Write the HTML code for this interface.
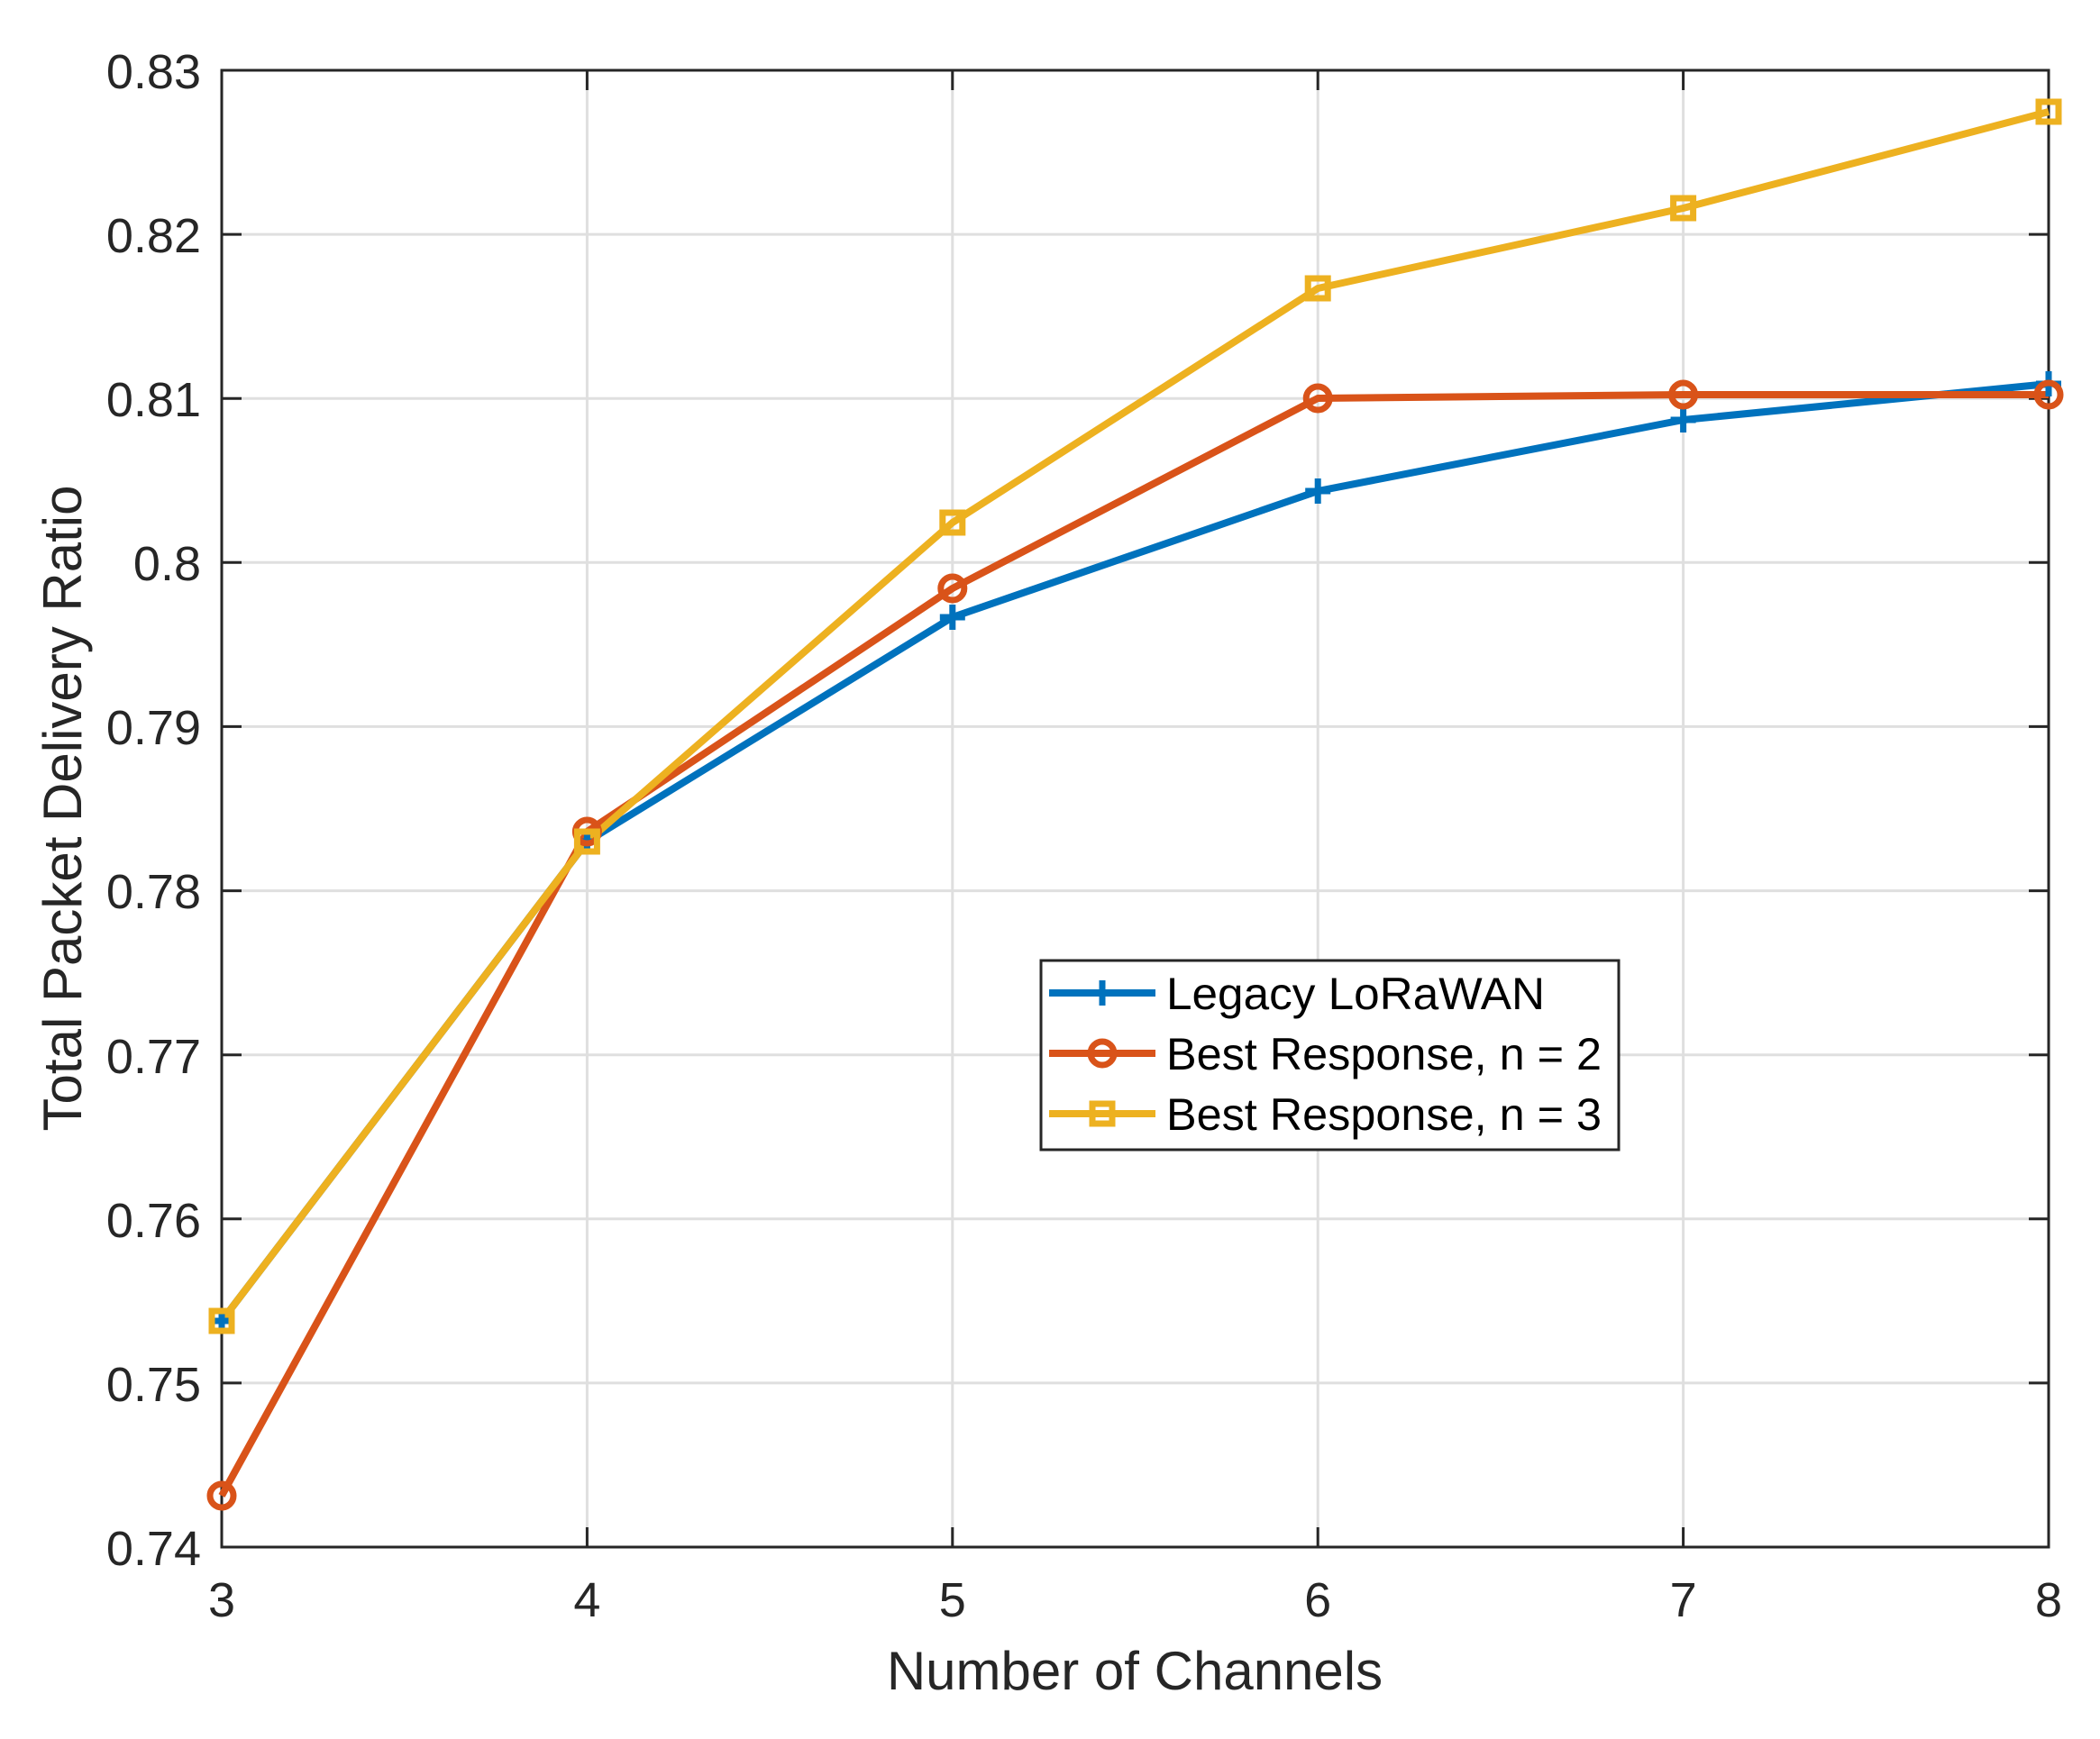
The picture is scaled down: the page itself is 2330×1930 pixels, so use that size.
<!DOCTYPE html>
<html><head><meta charset="utf-8"><style>html,body{margin:0;padding:0;background:#fff}svg{display:block}</style></head><body>
<svg width="2330" height="1930" viewBox="0 0 2330 1930" xmlns="http://www.w3.org/2000/svg" font-family="Liberation Sans, sans-serif">
<rect width="2330" height="1930" fill="#fff"/>
<g stroke="#dfdfdf" stroke-width="3">
<line x1="651.4" y1="78" x2="651.4" y2="1717"/><line x1="1056.8" y1="78" x2="1056.8" y2="1717"/><line x1="1462.2" y1="78" x2="1462.2" y2="1717"/><line x1="1867.6" y1="78" x2="1867.6" y2="1717"/>
<line x1="246" y1="260.1" x2="2273" y2="260.1"/><line x1="246" y1="442.2" x2="2273" y2="442.2"/><line x1="246" y1="624.3" x2="2273" y2="624.3"/><line x1="246" y1="806.4" x2="2273" y2="806.4"/><line x1="246" y1="988.6" x2="2273" y2="988.6"/><line x1="246" y1="1170.7" x2="2273" y2="1170.7"/><line x1="246" y1="1352.8" x2="2273" y2="1352.8"/><line x1="246" y1="1534.9" x2="2273" y2="1534.9"/>
</g>
<g stroke="#262626" stroke-width="3">
<path d="M651.4 1717v-22M1056.8 1717v-22M1462.2 1717v-22M1867.6 1717v-22M651.4 78v22M1056.8 78v22M1462.2 78v22M1867.6 78v22"/>
<path d="M246 260.1h22M246 442.2h22M246 624.3h22M246 806.4h22M246 988.6h22M246 1170.7h22M246 1352.8h22M246 1534.9h22M2273 260.1h-22M2273 442.2h-22M2273 624.3h-22M2273 806.4h-22M2273 988.6h-22M2273 1170.7h-22M2273 1352.8h-22M2273 1534.9h-22"/>
<rect x="246" y="78" width="2027" height="1639" fill="none"/>
</g>
<g fill="#262626" font-size="54" text-anchor="end">
<text x="223" y="98">0.83</text><text x="223" y="280">0.82</text><text x="223" y="462">0.81</text><text x="223" y="644">0.8</text><text x="223" y="826">0.79</text><text x="223" y="1008">0.78</text><text x="223" y="1191">0.77</text><text x="223" y="1373">0.76</text><text x="223" y="1555">0.75</text><text x="223" y="1737">0.74</text>
</g>
<g fill="#262626" font-size="54" text-anchor="middle">
<text x="246" y="1794">3</text><text x="651.4" y="1794">4</text><text x="1056.8" y="1794">5</text><text x="1462.2" y="1794">6</text><text x="1867.6" y="1794">7</text><text x="2273" y="1794">8</text>
</g>
<text x="1259" y="1875" font-size="60" text-anchor="middle" fill="#262626">Number of Channels</text>
<text transform="translate(90,897) rotate(-90)" font-size="60" text-anchor="middle" fill="#262626">Total Packet Delivery Ratio</text>
<g fill="none" stroke-width="8" stroke-linejoin="round">
<polyline stroke="#0072bd" points="246,1466 651.4,934 1056.8,685 1462.2,545 1867.6,466 2273,426"/>
<polyline stroke="#d95319" points="246,1660 651.4,923 1056.8,653 1462.2,442 1867.6,438 2273,438"/>
<polyline stroke="#edb120" points="246,1466 651.4,934 1056.8,580 1462.2,320 1867.6,231 2273,124"/>
</g>
<g stroke="#0072bd" stroke-width="7">
<path d="M232 1466h28M246 1452v28M637.4 934h28M651.4 920v28M1042.8 685h28M1056.8 671v28M1448.2 545h28M1462.2 531v28M1853.6 466h28M1867.6 452v28M2259 426h28M2273 412v28"/>
</g>
<g stroke="#d95319" stroke-width="7" fill="none">
<circle cx="246" cy="1660" r="13"/><circle cx="651.4" cy="923" r="13"/><circle cx="1056.8" cy="653" r="13"/><circle cx="1462.2" cy="442" r="13"/><circle cx="1867.6" cy="438" r="13"/><circle cx="2273" cy="438" r="13"/>
</g>
<g stroke="#edb120" stroke-width="7" fill="none">
<rect x="235" y="1455" width="22" height="22"/><rect x="640.4" y="923" width="22" height="22"/><rect x="1045.8" y="569" width="22" height="22"/><rect x="1451.2" y="309" width="22" height="22"/><rect x="1856.6" y="220" width="22" height="22"/><rect x="2262" y="113" width="22" height="22"/>
</g>
<rect x="1155" y="1066" width="641" height="210" fill="#fff" stroke="#262626" stroke-width="3"/>
<g stroke-width="8">
<line x1="1164" y1="1102" x2="1282" y2="1102" stroke="#0072bd"/>
<line x1="1164" y1="1169" x2="1282" y2="1169" stroke="#d95319"/>
<line x1="1164" y1="1236" x2="1282" y2="1236" stroke="#edb120"/>
</g>
<path d="M1209 1102h28M1223 1088v28" stroke="#0072bd" stroke-width="7"/>
<circle cx="1223" cy="1169" r="13" stroke="#d95319" stroke-width="7" fill="none"/>
<rect x="1212" y="1225" width="22" height="22" stroke="#edb120" stroke-width="7" fill="none"/>
<g font-size="50" fill="#000">
<text x="1294" y="1120" textLength="420" lengthAdjust="spacingAndGlyphs">Legacy LoRaWAN</text>
<text x="1294" y="1187" textLength="483" lengthAdjust="spacingAndGlyphs">Best Response, n = 2</text>
<text x="1294" y="1254" textLength="483" lengthAdjust="spacingAndGlyphs">Best Response, n = 3</text>
</g>
</svg>
</body></html>
